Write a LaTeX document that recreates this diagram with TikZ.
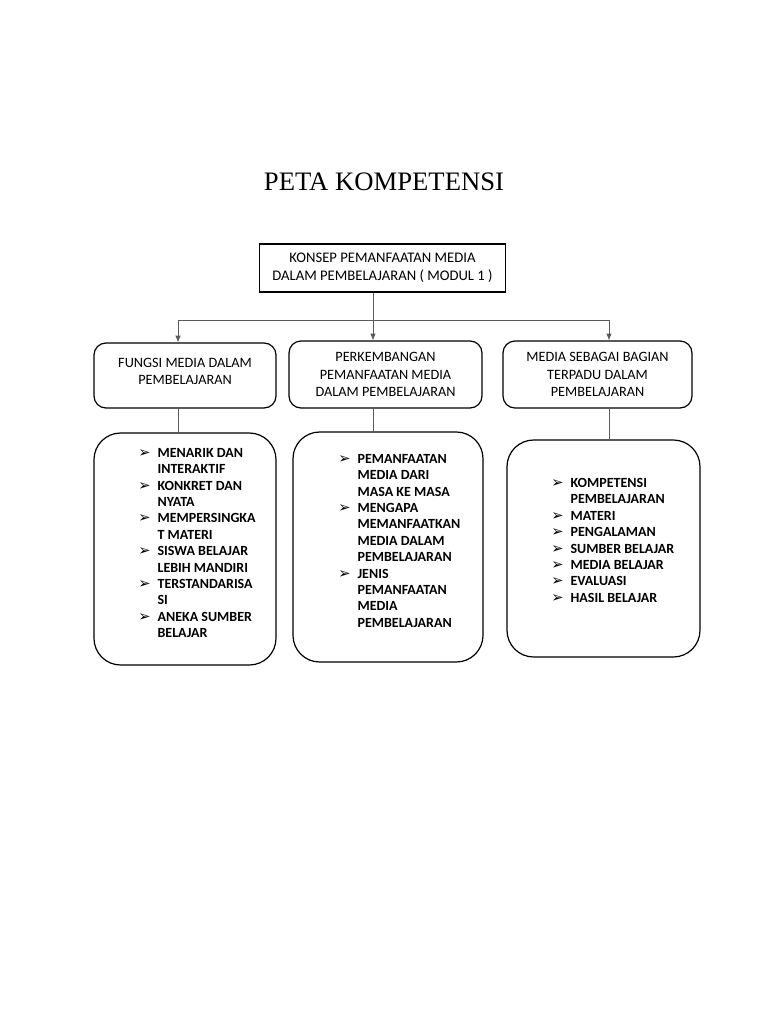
\documentclass[tikz,border=0pt]{standalone}
\usepackage{fontspec}
\setmainfont{Carlito}
\newfontfamily\titlefont{Liberation Serif}
\newfontfamily\symfont{DejaVu Sans}
\usetikzlibrary{arrows.meta,positioning}
\definecolor{LineGray}{RGB}{90,90,90}
\newcommand{\bul}{\makebox[14.5pt][l]{\symfont\fontsize{11}{11}\selectfont ➢}}
\newcommand{\cnt}{\hspace*{14.5pt}}
\tikzset{
  topbox/.style={draw,line width=0.9pt,minimum width=185pt,minimum height=36pt,align=center,font=\fontsize{11}{13.5}\selectfont},
  subbox/.style={draw,line width=0.9pt,rounded corners=9pt,align=center,font=\fontsize{10.7}{13}\selectfont},
  listbox/.style={draw,line width=0.9pt,rounded corners=20pt},
  listtext/.style={anchor=north west,inner sep=0pt,align=left,font=\fontsize{10.5}{12.3}\selectfont\bfseries},
  conn/.style={draw=LineGray,line width=0.6pt},
  arrowconn/.style={conn,-{Latex[length=5pt,width=4pt]}}
}
\begin{document}
\begin{tikzpicture}[x=0.75pt,y=-0.75pt]
\useasboundingbox (0,0) rectangle (768,1024);
\fill[white] (0,0) rectangle (768,1024);

\node[font=\titlefont\fontsize{20}{24}\selectfont] (title) at (384,182) {PETA KOMPETENSI};

\node[topbox] (konsep) at (382.5,268) {KONSEP PEMANFAATAN MEDIA\\DALAM PEMBELAJARAN ( MODUL 1 )};

\node[subbox,minimum width=136.5pt,minimum height=48.75pt] (fungsi) at (185,375.5) {FUNGSI MEDIA DALAM\\PEMBELAJARAN\\[-7pt]};
\node[subbox,minimum width=144.75pt,minimum height=50.25pt] (perkembangan) at (385.5,374.5) {PERKEMBANGAN\\PEMANFAATAN MEDIA\\DALAM PEMBELAJARAN};
\node[subbox,minimum width=141.75pt,minimum height=50.25pt] (bagian) at (597.5,374.5) {MEDIA SEBAGAI BAGIAN\\TERPADU DALAM\\PEMBELAJARAN};

\node[listbox,minimum width=136.5pt,minimum height=174pt] (daftarA) at (185,549) {};
\node[listbox,minimum width=142.5pt,minimum height=172.5pt] (daftarB) at (388,547) {};
\node[listbox,minimum width=144.75pt,minimum height=162.75pt] (daftarC) at (603.5,548.5) {};

\node[listtext] (isiA) at (138,448) {\bul MENARIK DAN\\\cnt INTERAKTIF\\\bul KONKRET DAN\\\cnt NYATA\\\bul MEMPERSINGKA\\\cnt T MATERI\\\bul SISWA BELAJAR\\\cnt LEBIH MANDIRI\\\bul TERSTANDARISA\\\cnt SI\\\bul ANEKA SUMBER\\\cnt BELAJAR};
\node[listtext] (isiB) at (338,454) {\bul PEMANFAATAN\\\cnt MEDIA DARI\\\cnt MASA KE MASA\\\bul MENGAPA\\\cnt MEMANFAATKAN\\\cnt MEDIA DALAM\\\cnt PEMBELAJARAN\\\bul JENIS\\\cnt PEMANFAATAN\\\cnt MEDIA\\\cnt PEMBELAJARAN};
\node[listtext] (isiC) at (551,478) {\bul KOMPETENSI\\\cnt PEMBELAJARAN\\\bul MATERI\\\bul PENGALAMAN\\\bul SUMBER BELAJAR\\\bul MEDIA BELAJAR\\\bul EVALUASI\\\bul HASIL BELAJAR};

% cabang
\coordinate (jA) at (178,320);
\coordinate (jB) at (373,320);
\coordinate (jC) at (609,320);
\draw[conn] (konsep.south -| jB) -- (jB);
\draw[conn] (jA) -- (jC);
\draw[arrowconn] (jA) -- (jA |- fungsi.north);\draw[arrowconn] (jB) -- (jB |- perkembangan.north);\draw[arrowconn] (jC) -- (jC |- bagian.north);
\draw[conn] (fungsi.south -| jA) -- (daftarA.north -| jA);\draw[conn] (perkembangan.south -| jB) -- (daftarB.north -| jB);\draw[conn] (bagian.south -| jC) -- (daftarC.north -| jC);
\end{tikzpicture}
\end{document}
